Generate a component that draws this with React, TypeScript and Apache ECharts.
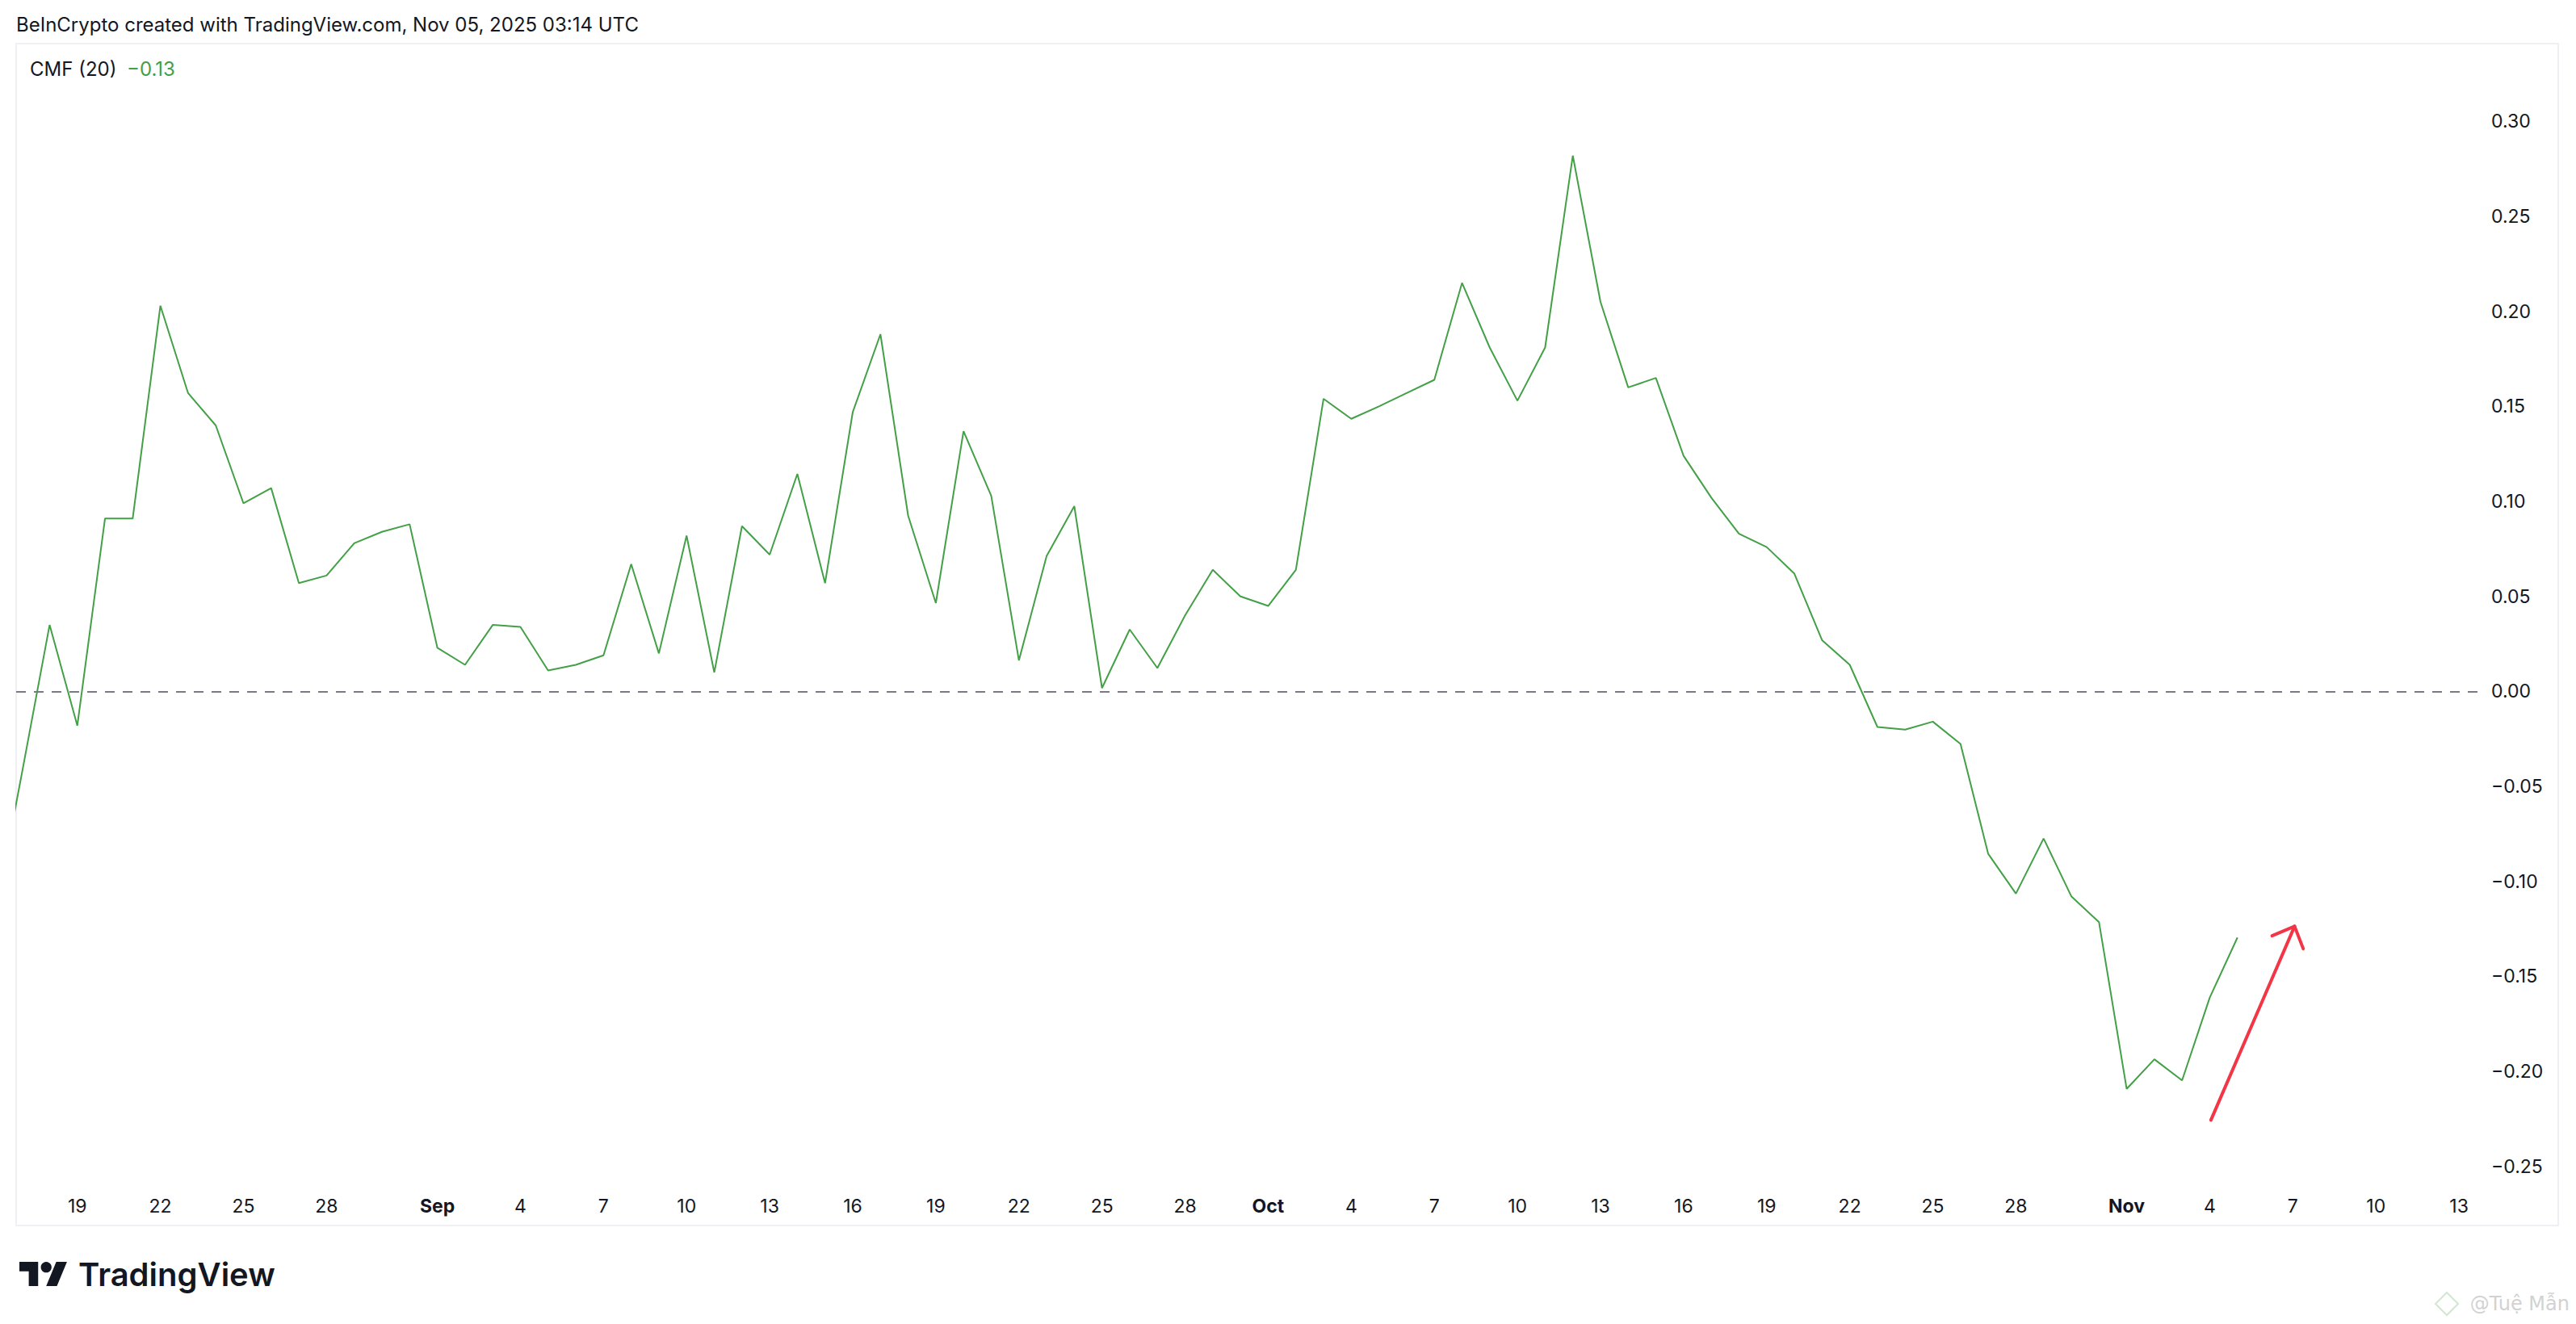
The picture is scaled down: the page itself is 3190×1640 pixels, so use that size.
import React, { useEffect, useRef } from "react";
import * as echarts from "echarts";

// ---------- DATA ----------
const startDate = "2025-08-16"; // first daily CMF value below
const cmfValues = [
  -0.12, -0.043, 0.035, -0.018, 0.091, 0.091, 0.203, 0.157, 0.14, 0.099, 0.107, 0.057, 0.061, 0.078, 0.084, 0.088,
  0.023, 0.014, 0.035, 0.034, 0.011, 0.014, 0.019, 0.067, 0.02, 0.082, 0.01, 0.087, 0.072, 0.1145, 0.057, 0.147,
  0.188, 0.0925, 0.0465, 0.137, 0.103, 0.0163, 0.0713, 0.0975, 0.0018, 0.0326, 0.0123, 0.04, 0.064, 0.05,
  0.045, 0.064, 0.154, 0.1435, 0.15, 0.157, 0.164, 0.215, 0.181, 0.153, 0.181, 0.282, 0.205, 0.16, 0.165, 0.124,
  0.102, 0.083, 0.076, 0.062, 0.027, 0.014, -0.0187, -0.0201, -0.0159, -0.0276, -0.0855, -0.1064, -0.0774, -0.1078,
  -0.1214, -0.2092, -0.1936, -0.2047, -0.1611, -0.1295,
];
const tickDates = [
  "2025-08-19", "2025-08-22", "2025-08-25", "2025-08-28", "2025-09-01", "2025-09-04", "2025-09-07", "2025-09-10",
  "2025-09-13", "2025-09-16", "2025-09-19", "2025-09-22", "2025-09-25", "2025-09-28", "2025-10-01", "2025-10-04",
  "2025-10-07", "2025-10-10", "2025-10-13", "2025-10-16", "2025-10-19", "2025-10-22", "2025-10-25", "2025-10-28",
  "2025-11-01", "2025-11-04", "2025-11-07", "2025-11-10", "2025-11-13",
];
const yTickValues = [-0.25, -0.2, -0.15, -0.1, -0.05, 0, 0.05, 0.1, 0.15, 0.2, 0.25, 0.3];
const xRange = ["2025-08-16T19:00", "2025-11-13T16:00"]; // visible time window
const yRange = [-0.2573, 0.3397];
// hand-drawn red arrow annotation: [date-time, value]
const arrowShaft = [["2025-11-04T01:00", -0.2256], ["2025-11-07T01:30", -0.1236]];
const arrowHead = [["2025-11-06T06:00", -0.1286], ["2025-11-07T01:30", -0.1236], ["2025-11-07T09:00", -0.1354]];
const headerText = "BeInCrypto created with TradingView.com, Nov 05, 2025 03:14 UTC";
const legendName = "CMF (20)";
const legendValue = "\u22120.13";
const watermark = "@Tu\u1ec7 M\u1eabn";

const MONTHS = ["Jan", "Feb", "Mar", "Apr", "May", "Jun", "Jul", "Aug", "Sep", "Oct", "Nov", "Dec"];
const DAY = 86400000;
const t0 = Date.parse(startDate + "T00:00:00Z");
const toIdx = (s: string) => (Date.parse((s.length > 10 ? s : s + "T00:00") + ":00Z") - t0) / DAY;

echarts.graphic.registerShape(
  "tvlogo",
  echarts.graphic.extendPath("M14 22H7V11H0V4h14v18zM28 22h-8l7.5-18h8L28 22z", {})
);

const FONT = "Inter, Roboto, sans-serif";
const AX = 23;

export default function App() {
  const ref = useRef<HTMLDivElement>(null);
  useEffect(() => {
    if (!ref.current) return;
    const chart = echarts.init(ref.current, null, { renderer: "svg" });
    const lineData = cmfValues.map((v, i) => [i, v]);
    const fmtMinus = (v: number) => (v < 0 ? "\u2212" + Math.abs(v).toFixed(2) : v.toFixed(2));
    chart.setOption({
      animation: false,
      backgroundColor: "#ffffff",
      grid: { left: 20, right: 122, top: 57, bottom: 178, containLabel: false },
      xAxis: {
        type: "value",
        min: toIdx(xRange[0]),
        max: toIdx(xRange[1]),
        axisLine: { show: false },
        axisTick: { show: false },
        splitLine: { show: false },
        axisLabel: {
          customValues: tickDates.map(toIdx),
          margin: 20,
          fontSize: AX,
          fontFamily: FONT,
          color: "#131722",
          formatter: (v: number) => {
            const d = new Date(t0 + Math.round(v) * DAY);
            const day = d.getUTCDate();
            return day === 1 ? "{m|" + MONTHS[d.getUTCMonth()] + "}" : "{d|" + day + "}";
          },
          rich: {
            m: { fontSize: AX, fontFamily: FONT, fontWeight: 700, color: "#131722" },
            d: { fontSize: AX, fontFamily: FONT, color: "#131722" },
          },
        },
      },
      yAxis: {
        type: "value",
        position: "right",
        min: yRange[0],
        max: yRange[1],
        axisLine: { show: false },
        axisTick: { show: false },
        splitLine: { show: false },
        axisLabel: {
          customValues: yTickValues,
          margin: 17,
          align: "left",
          fontSize: AX,
          fontFamily: FONT,
          color: "#131722",
          formatter: (v: number) => fmtMinus(v),
        },
      },
      series: [
        {
          type: "line",
          data: lineData,
          showSymbol: false,
          symbol: "none",
          lineStyle: { color: "#43a047", width: 2 },
          clip: true,
          markLine: {
            silent: true,
            symbol: "none",
            label: { show: false },
            lineStyle: { color: "#787b86", width: 2, type: [12, 10] },
            data: [{ yAxis: 0 }],
          },
        },
        {
          type: "line",
          data: arrowShaft.map((p) => [toIdx(p[0] as string), p[1]]),
          symbol: "none",
          lineStyle: { color: "#f23645", width: 4, cap: "round" },
        },
        {
          type: "line",
          data: arrowHead.map((p) => [toIdx(p[0] as string), p[1]]),
          symbol: "none",
          lineStyle: { color: "#f23645", width: 4, cap: "round", join: "round" },
        },
      ],
      graphic: [
        {
          type: "rect",
          shape: { x: 20, y: 54, width: 3148, height: 1464 },
          style: { fill: "none", stroke: "#eef0f3", lineWidth: 2 },
          silent: true,
        },
        {
          type: "text",
          x: 20,
          y: 30,
          style: { text: headerText, font: "24px " + FONT, fill: "#131722", verticalAlign: "middle" },
        },
        {
          type: "text",
          x: 37,
          y: 85,
          style: { text: legendName, font: "24px " + FONT, fill: "#131722", verticalAlign: "middle" },
        },
        {
          type: "text",
          x: 157,
          y: 85,
          style: { text: legendValue, font: "24px " + FONT, fill: "#43a047", verticalAlign: "middle" },
        },
        {
          type: "tvlogo",
          x: 24,
          y: 1556.4,
          scaleX: 1.66,
          scaleY: 1.66,
          style: { fill: "#131722" },
        },
        {
          type: "circle",
          shape: { cx: 24 + 20 * 1.66, cy: 1556.4 + 8 * 1.66, r: 4 * 1.66 },
          style: { fill: "#131722" },
        },
        {
          type: "text",
          x: 97,
          y: 1578,
          style: { text: "TradingView", font: "600 40px " + FONT, fill: "#131722", verticalAlign: "middle" },
        },
        {
          type: "polygon",
          shape: { points: [[3030, 1601], [3044, 1615], [3030, 1629], [3016, 1615]] },
          style: { fill: "none", stroke: "#d3e6d3", lineWidth: 2 },
        },
        {
          type: "text",
          x: 3182,
          y: 1615,
          style: {
            text: watermark,
            font: "24px 'DejaVu Sans', sans-serif",
            fill: "#d2d2d2",
            verticalAlign: "middle",
            align: "right",
          },
        },
      ],
    });
    return () => chart.dispose();
  }, []);
  return (
    <div
      ref={ref}
      style={{ position: "absolute", left: 0, top: 0, width: 3190, height: 1640, background: "#fff" }}
    />
  );
}
